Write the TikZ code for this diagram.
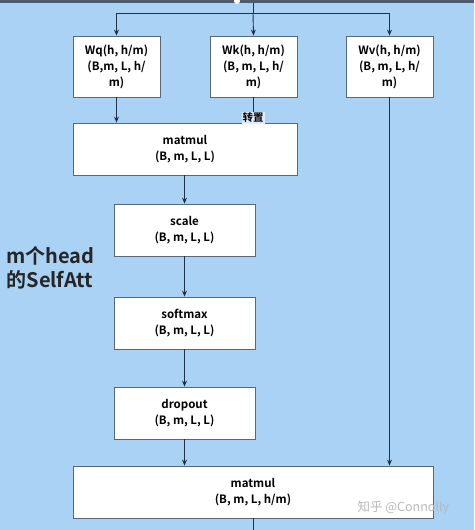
\documentclass[tikz,border=0pt]{standalone}
\usepackage{fontspec}
\setmainfont{Noto Sans CJK SC}[BoldFont={* Bold}]
\usetikzlibrary{arrows.meta}
\definecolor{bgblue}{HTML}{A9D2F4}
\definecolor{lineblue}{HTML}{1E3148}
\definecolor{boxline}{HTML}{56687A}
\definecolor{topbar}{HTML}{4B5D6E}
\tikzset{
  box/.style={draw=boxline, line width=0.8pt, fill=white, align=center, font=\bfseries\fontsize{11.5}{16}\selectfont, inner sep=0pt},
  conn/.style={draw=lineblue, line width=0.9pt, -{Stealth[length=6pt,width=5pt]}},
  plain/.style={draw=lineblue, line width=0.9pt}
}
\begin{document}
\begin{tikzpicture}[x=1pt,y=-1pt]
\fill[bgblue] (0,0) rectangle (474,530);
\useasboundingbox (0,0) rectangle (474,530);
\fill[topbar] (0,0) rectangle (474,3);
\fill[white] (237,1) circle (3);
% nodes
\node[box, minimum width=87pt, minimum height=61pt] (wq) at (116.5,66.5) {Wq(h, h/m)\\ (B,m, L, h/\\ m)};
\node[box, minimum width=87pt, minimum height=61pt] (wk) at (253.5,66.5) {Wk(h, h/m)\\ (B, m, L, h/\\ m)};
\node[box, minimum width=87pt, minimum height=61pt] (wv) at (389.5,66.5) {Wv(h, h/m)\\ (B, m, L, h/\\ m)};
\node[box, minimum width=224pt, minimum height=52pt] (mm1) at (185,149) {matmul\\ (B, m, L, L)};
\node[box, minimum width=141pt, minimum height=52pt] (scale) at (184.5,230) {scale\\ (B, m, L, L)};
\node[box, minimum width=141pt, minimum height=52pt] (softmax) at (184.5,323) {softmax\\ (B, m, L, L)};
\node[box, minimum width=141pt, minimum height=52pt] (dropout) at (184.5,413) {dropout\\ (B, m, L, L)};
\node[box, minimum width=360pt, minimum height=52pt] (mm2) at (253,492) {matmul\\ (B, m, L, h/m)};
% top input
\coordinate (top) at (253,3);
\coordinate (split) at (253,13);
\coordinate (bot) at (253,530);
\draw[plain] (top) -- (split);
\draw[conn] (split) -- (wk.north);
\draw[conn] (split) -| (wq.north);
\draw[conn] (split) -| (wv.north);
% connectors
\draw[conn] (wq.south) -- (wq.south |- mm1.north);
\draw[conn] (wk.south) -- (wk.south |- mm1.north);
\node[font=\bfseries\fontsize{10.5}{12}\selectfont, fill=bgblue!40!white, inner sep=1pt] (tr) at (253,118) {转置};
\draw[conn] (mm1.south -| scale.north) -- (scale.north);
\draw[conn] (scale.south) -- (softmax.north);
\draw[conn] (softmax.south) -- (dropout.north);
\draw[conn] (dropout.south) -- (dropout.south |- mm2.north);
\draw[conn] (wv.south) -- (wv.south |- mm2.north);
\draw[plain] (mm2.south) -- (bot);
% side label
\node[font=\bfseries\fontsize{20}{24}\selectfont, align=left, anchor=west, text=black!85] (lbl) at (3,268) {m个head\\的SelfAtt};
% watermark
\node[font=\fontsize{12.5}{14}\selectfont, text=gray!55, anchor=west] (wm) at (354,508) {知乎 @Connolly};
\end{tikzpicture}
\end{document}
